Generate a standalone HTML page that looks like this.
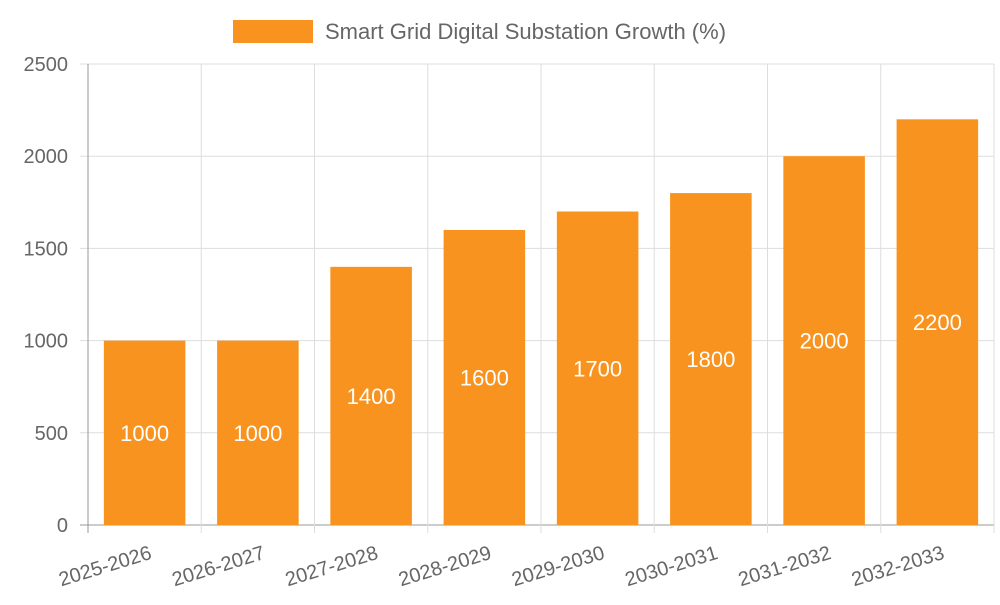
<!DOCTYPE html>
<html><head><meta charset="utf-8"><style>
body{margin:0;background:#fff;}
svg{font-family:"Liberation Sans",sans-serif;}
</style></head><body>
<svg id="chart" width="1000" height="600" xmlns="http://www.w3.org/2000/svg">
<g>
<rect x="233" y="20" width="80" height="23" fill="#f7931e"/>
<text x="325" y="39" font-size="22" fill="#666">Smart Grid Digital Substation Growth (%)</text>
</g>
<g id="grid"></g><g id="bars"></g><g id="labels"></g>
</svg>
<script>
const categories=["2025-2026","2026-2027","2027-2028","2028-2029","2029-2030","2030-2031","2031-2032","2032-2033"];
const values=[1000,1000,1400,1600,1700,1800,2000,2200];
const yTicks=[0,500,1000,1500,2000,2500];
const NS="http://www.w3.org/2000/svg";
const L=88,R=994,T=64,B=525,yMax=2500;
const bw=(R-L)/categories.length;
const x=i=>L+i*bw;
const y=v=>B-(v/yMax)*(B-T);
function mk(p,tag,a,txt){const e=document.createElementNS(NS,tag);for(const k in a)e.setAttribute(k,a[k]);if(txt!==undefined)e.textContent=txt;document.getElementById(p).appendChild(e);return e;}
yTicks.forEach(t=>{
 const g=mk("grid","line",{x1:L-8,x2:R,y1:y(t),y2:y(t),stroke:t===0?"#999":"#ddd","stroke-width":1});
 
 
 const l=mk("grid","text",{x:L-20,y:y(t)+7,"text-anchor":"end","font-size":20,fill:"#666"},String(t));
 
 
});
for(let i=0;i<=categories.length;i++){
 const g=mk("grid","line",{x1:x(i),x2:x(i),y1:T,y2:B+8,stroke:i===0?"#999":"#ddd","stroke-width":1});
 
 
}
categories.forEach((c,i)=>{
 const cx=x(i)+bw/2,w=bw*0.72;
 const r=mk("bars","rect",{x:cx-w/2,y:y(values[i]),width:w,height:B-y(values[i]),fill:"#f7931e"});
 
 
 const v=mk("labels","text",{x:cx,y:(y(values[i])+B)/2+8,"text-anchor":"middle","font-size":22,fill:"#fff"},String(values[i]));
 
 
 const t=mk("labels","text",{x:cx+4,y:545,"text-anchor":"end","font-size":20,fill:"#666",transform:`rotate(-17 ${cx+4} 545)`,dy:"0.7em"},c);
 
 
});
</script>
</body></html>
